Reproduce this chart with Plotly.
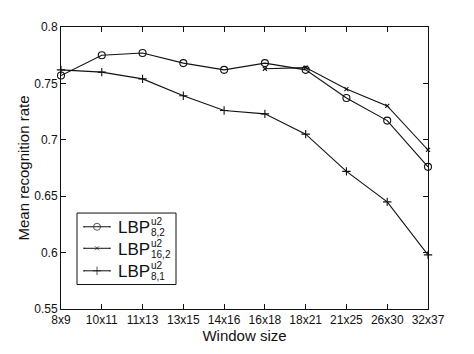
import plotly.graph_objects as go

window_sizes = ["8x9", "10x11", "11x13", "13x15", "14x16", "16x18", "18x21", "21x25", "26x30", "32x37"]
lbp_8_2 = [0.757, 0.775, 0.777, 0.768, 0.762, 0.768, 0.762, 0.737, 0.717, 0.676]
lbp_16_2 = [None, None, None, None, None, 0.763, 0.764, 0.745, 0.730, 0.691]
lbp_8_1 = [0.762, 0.760, 0.754, 0.739, 0.726, 0.723, 0.705, 0.672, 0.645, 0.598]
y_ticks = [0.55, 0.6, 0.65, 0.7, 0.75, 0.8]
y_tick_labels = ["0.55", "0.6", "0.65", "0.7", "0.75", "0.8"]
legend_subs = ["8,2", "16,2", "8,1"]
legend_sups = ["u2", "u2", "u2"]

W, H = 474, 354
L, R, T, B = 61, 428, 27, 315
FONT = "Liberation Sans, Arial, Helvetica, sans-serif"
INK = "#111111"

def px(x):
    return (x - L) / (R - L)

def py(y):
    return (B - y) / (B - T)

fig = go.Figure()
series = [(lbp_8_2, "circle-open", 7), (lbp_16_2, "x-thin-open", 4), (lbp_8_1, "cross-thin-open", 6)]
for vals, sym, sz in series:
    fig.add_trace(go.Scatter(
        x=list(range(len(window_sizes))), y=vals, mode="lines+markers",
        line=dict(color=INK, width=1.1),
        marker=dict(symbol=sym, size=sz, color=INK, line=dict(color=INK, width=1.1)),
        showlegend=False, connectgaps=False, cliponaxis=False,
    ))

# legend samples on an overlay axis measured in pixels
rows_y = [231, 253, 276]
for ry, (_, sym, sz) in zip(rows_y, series):
    fig.add_trace(go.Scatter(
        x=[84, 97, 110], y=[ry, ry, ry], xaxis="x2", yaxis="y2",
        mode="lines+markers", line=dict(color=INK, width=1),
        marker=dict(symbol=["circle", sym, "circle"], size=[1, sz, 1], color=INK,
                    line=dict(color=INK, width=1)),
        showlegend=False, hoverinfo="skip",
    ))

fig.add_shape(type="rect", xref="paper", yref="paper",
              x0=px(77), x1=px(176), y0=py(290), y1=py(217),
              line=dict(color=INK, width=1), fillcolor="white", layer="below")

for ry, sup, sub in zip(rows_y, legend_sups, legend_subs):
    fig.add_annotation(x=px(117), y=py(ry + 1), xref="paper", yref="paper", text="LBP",
                       showarrow=False, xanchor="left", yanchor="middle", borderpad=0,
                       font=dict(family=FONT, size=17, color=INK))
    fig.add_annotation(x=px(150), y=py(ry - 5), xref="paper", yref="paper", text=sup,
                       showarrow=False, xanchor="left", yanchor="middle", borderpad=0,
                       font=dict(family=FONT, size=10, color=INK))
    fig.add_annotation(x=px(150), y=py(ry + 6), xref="paper", yref="paper", text=sub,
                       showarrow=False, xanchor="left", yanchor="middle", borderpad=0,
                       font=dict(family=FONT, size=10, color=INK))

fig.update_layout(
    width=W, height=H,
    margin=dict(l=L, r=W - R, t=T, b=H - B),
    paper_bgcolor="white", plot_bgcolor="white",
    font=dict(family=FONT, size=12, color=INK),
    xaxis=dict(
        range=[0, len(window_sizes) - 1], tickvals=list(range(len(window_sizes))),
        ticktext=window_sizes, ticks="inside", ticklen=5, tickcolor=INK,
        showline=True, linecolor=INK, linewidth=1, mirror="ticks", showgrid=False,
        zeroline=False, tickfont=dict(size=12), ticklabelstandoff=0,
        title=dict(text="Window size", font=dict(size=15), standoff=4),
    ),
    yaxis=dict(
        range=[0.55, 0.8], tickvals=y_ticks, ticktext=y_tick_labels,
        ticks="inside", ticklen=5, tickcolor=INK,
        showline=True, linecolor=INK, linewidth=1, mirror="ticks", showgrid=False,
        zeroline=False, tickfont=dict(size=12),
        title=dict(text="Mean recognition rate", font=dict(size=15), standoff=0),
    ),
    xaxis2=dict(overlaying="x", range=[L, R], visible=False, domain=[0, 1], anchor="y2"),
    yaxis2=dict(overlaying="y", range=[B, T], visible=False, domain=[0, 1], anchor="x2"),
)

fig.write_html("out.html")
